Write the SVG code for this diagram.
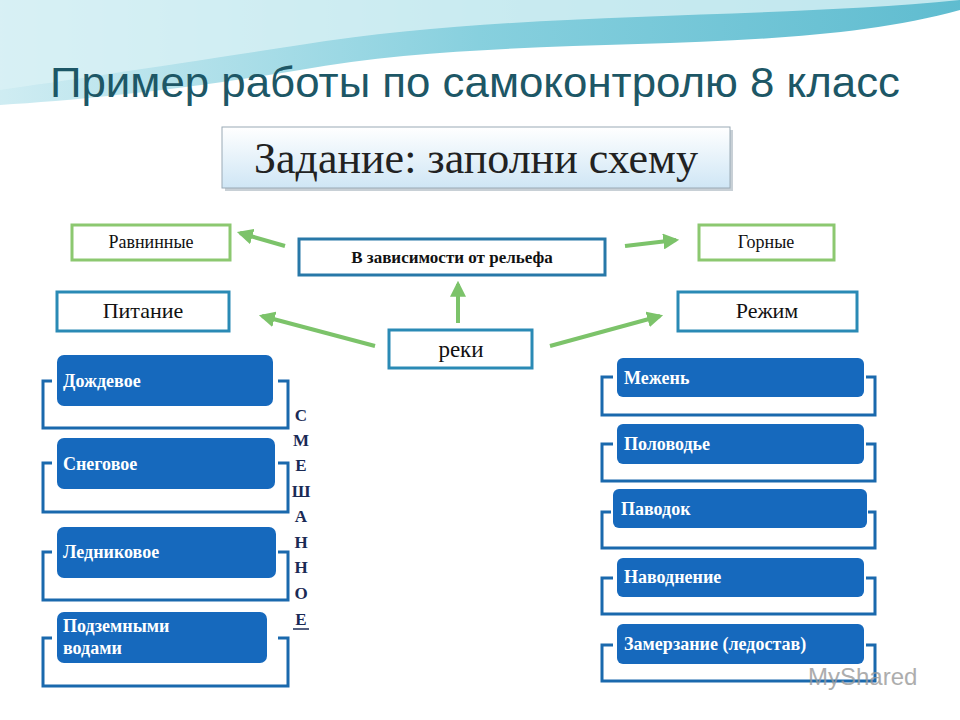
<svg xmlns="http://www.w3.org/2000/svg" width="960" height="720" viewBox="0 0 960 720">
<defs>
<linearGradient id="wave" x1="0" y1="0" x2="1" y2="0"><stop offset="0" stop-color="#bfe6ee"/><stop offset="0.5" stop-color="#5fc0d3"/><stop offset="1" stop-color="#2aa6c0"/></linearGradient>
<linearGradient id="task" x1="0" y1="0" x2="0" y2="1"><stop offset="0" stop-color="#ffffff"/><stop offset="1" stop-color="#cfe6f5"/></linearGradient>
<marker id="ah" viewBox="0 0 10 10" refX="8" refY="5" markerWidth="4" markerHeight="4" orient="auto"><path d="M0,0 L10,5 L0,10 z" fill="#7cc36a"/></marker>
<style>
.sans{font-family:"Liberation Sans",Arial,sans-serif}
.serif{font-family:"Liberation Serif","Times New Roman",serif}
.blue{fill:#1669bd;}
.frame{fill:none;stroke:#1a69ad;stroke-width:3}
.wt{font-family:"Liberation Serif",serif;font-size:18px;font-weight:bold;fill:#fff}
.arr{stroke:#7cc36a;stroke-width:4;fill:none;marker-end:url(#ah)}
</style>
</defs>
<rect width="960" height="720" fill="#ffffff"/>
<path d="M0,0 H960 V10 C780,60 520,30 300,70 C180,90 80,100 0,105 Z" fill="url(#wave)" opacity="0.75"/>
<path d="M0,0 H960 V0 C760,20 520,10 300,45 C170,65 70,80 0,90 Z" fill="#d9f1f5" opacity="0.8"/>
<text x="475" y="97" text-anchor="middle" class="sans" font-size="43" fill="#1d5766" textLength="850" lengthAdjust="spacingAndGlyphs">Пример работы по самоконтролю 8 класс</text>
<g id="task"><rect x="225" y="130" width="508" height="61" fill="#c8d0d6"/><rect x="222" y="127" width="508" height="61" fill="url(#task)" stroke="#9aaab5" stroke-width="1"/>
<text x="476" y="173" text-anchor="middle" class="serif" font-size="44" fill="#222">Задание: заполни схему</text></g>
<g id="connectors">
<line x1="285" y1="246" x2="240" y2="233" class="arr"/>
<line x1="625" y1="246" x2="676" y2="240" class="arr"/>
<line x1="458" y1="323" x2="458" y2="284" class="arr"/>
<line x1="375" y1="346" x2="262" y2="316" class="arr"/>
<line x1="550" y1="346" x2="660" y2="316" class="arr"/>
</g>
<g id="ravn"><rect x="72" y="225" width="158" height="35" fill="#fff" stroke="#8cc870" stroke-width="3"/><text x="151" y="248" text-anchor="middle" class="serif" font-size="18" fill="#111">Равнинные</text></g>
<g id="gorn"><rect x="699" y="225" width="135" height="35" fill="#fff" stroke="#8cc870" stroke-width="3"/><text x="766" y="248" text-anchor="middle" class="serif" font-size="18" fill="#111">Горные</text></g>
<g id="relief"><rect x="299" y="239" width="306" height="36" fill="#fff" stroke="#2878a8" stroke-width="3"/><text x="452" y="263" text-anchor="middle" class="serif" font-size="17" font-weight="bold" fill="#111">В зависимости от рельефа</text></g>
<g id="pit"><rect x="57" y="292" width="172" height="39" fill="#fff" stroke="#2a8ab5" stroke-width="3"/><text x="143" y="318" text-anchor="middle" class="serif" font-size="22" fill="#111">Питание</text></g>
<g id="rezh"><rect x="678" y="292" width="179" height="39" fill="#fff" stroke="#2a8ab5" stroke-width="3"/><text x="767" y="318" text-anchor="middle" class="serif" font-size="22" fill="#111">Режим</text></g>
<g id="reki"><rect x="389" y="330" width="143" height="38" fill="#fff" stroke="#2a8ab5" stroke-width="3"/><text x="461" y="357" text-anchor="middle" class="serif" font-size="23" fill="#111">реки</text></g>
<g id="l1"><path d="M52,381 H43 V428 H288 V381 H278" class="frame"/><rect x="57" y="355" width="216" height="51" rx="7" class="blue"/><text x="63" y="387" class="wt">Дождевое</text></g>
<g id="l2"><path d="M52,463 H43 V512 H288 V463 H278" class="frame"/><rect x="57" y="438" width="218" height="51" rx="7" class="blue"/><text x="63" y="470" class="wt">Снеговое</text></g>
<g id="l3"><path d="M52,552 H43 V600 H288 V552 H278" class="frame"/><rect x="57" y="527" width="219" height="51" rx="7" class="blue"/><text x="63" y="558" class="wt">Ледниковое</text></g>
<g id="l4"><path d="M52,638 H43 V686 H288 V638 H278" class="frame"/><rect x="57" y="612" width="210" height="51" rx="7" class="blue"/><text x="63" y="632" class="wt">Подземными</text><text x="63" y="654" class="wt">водами</text></g>
<g id="mixed" class="serif" font-size="17" font-weight="bold" fill="#1a2a55" text-anchor="middle">
<text x="301" y="421">С</text><text x="301" y="446">М</text><text x="301" y="471">Е</text><text x="301" y="497">Ш</text><text x="301" y="522">А</text><text x="301" y="548">Н</text><text x="301" y="573">Н</text><text x="301" y="599">О</text><text x="301" y="625">Е</text>
<line x1="293" y1="629" x2="309" y2="629" stroke="#1a2a55" stroke-width="1.5"/></g>
<g id="r1"><path d="M613,377 H602 V415 H875 V377 H866" class="frame"/><rect x="617" y="358" width="247" height="39" rx="6" class="blue"/><text x="624" y="384" class="wt">Межень</text></g>
<g id="r2"><path d="M613,444 H602 V481 H875 V444 H866" class="frame"/><rect x="617" y="424" width="247" height="40" rx="6" class="blue"/><text x="624" y="450" class="wt">Половодье</text></g>
<g id="r3"><path d="M611,512 H602 V548 H875 V512 H868" class="frame"/><rect x="613" y="489" width="254" height="39" rx="6" class="blue"/><text x="621" y="515" class="wt">Паводок</text></g>
<g id="r4"><path d="M613,578 H602 V614 H875 V578 H866" class="frame"/><rect x="617" y="558" width="247" height="39" rx="6" class="blue"/><text x="624" y="583" class="wt">Наводнение</text></g>
<g id="r5"><path d="M613,645 H602 V681 H875 V645 H866" class="frame"/><rect x="617" y="624" width="247" height="40" rx="6" class="blue"/><text x="624" y="650" class="wt">Замерзание (ледостав)</text></g>
<text x="808" y="685" class="sans" font-size="24" fill="#999" opacity="0.8">MyShared</text>
</svg>
